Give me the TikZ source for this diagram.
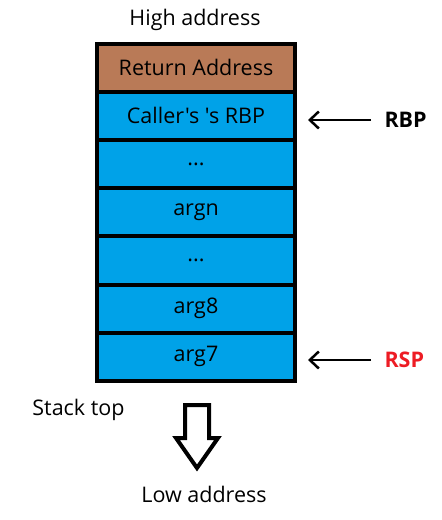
\documentclass[tikz,border=0pt]{standalone}
\usepackage{fontspec}
\setmainfont{Open Sans}[Ligatures=TeXOff]
\usetikzlibrary{positioning,arrows.meta}
\definecolor{retbrown}{RGB}{185,122,87}
\definecolor{stackblue}{RGB}{0,162,232}
\definecolor{regred}{RGB}{237,28,36}

\begin{document}
\begin{tikzpicture}
            [x=1pt, y=1pt,
            cell/.style={rectangle, draw, line width=4pt, fill=#1,
                minimum width=198pt, minimum height=48.2pt,
                outer sep=0pt, inner sep=0pt, font=\fontsize{21.5}{25}\selectfont},
            reg/.style={anchor=west, font=\fontsize{21.5}{25}\selectfont\bfseries},
            note/.style={font=\fontsize{21.5}{25}\selectfont},
            ptr/.style={-{Straight Barb[length=9pt,width=17pt]}, line width=2.5pt}
            ]
            \useasboundingbox (0,0) rectangle (442,-520);

            \node (ret) [cell=retbrown] at (196,-67.6) {Return Address};
            \node (oldrbp) [below=0pt of ret, cell=stackblue] {Caller's 's RBP};
            \node (dots1) [below=0pt of oldrbp, cell=stackblue] {...};
            \node (argn) [below=0pt of dots1, cell=stackblue] {argn};
            \node (dots2) [below=0pt of argn, cell=stackblue] {...};
            \node (arg8) [below=0pt of dots2, cell=stackblue] {arg8};
            \node (arg7) [below=0pt of arg8, cell=stackblue] {arg7};

            % Labels
            \node (high) [note] at (195,-20) {High address};
            \node (top) [note] at (78.5,-410) {Stack top};
            \node (low) [note] at (204,-494) {Low address};

            % Registers
            \node (rbp) [reg] at (381,-120) {RBP};
            \node (rsp) [reg, text=regred] at (381,-360) {RSP};
            \foreach \r/\c in {rbp/oldrbp,rsp/arg7}
            \draw [ptr, shorten <=10pt, shorten >=13pt] (\r.west) -- (\r.west -| \c.east);

            % Growth arrow
            \coordinate (grow) at (197,-405);
            \draw [line width=4pt, line join=miter]
                (grow) ++(-12,0) -- ++(0,-33) -- ++(-9,0) -- ++(21,-30)
                -- ++(21,30) -- ++(-9,0) -- ++(0,33) -- cycle;
\end{tikzpicture}
\end{document}
